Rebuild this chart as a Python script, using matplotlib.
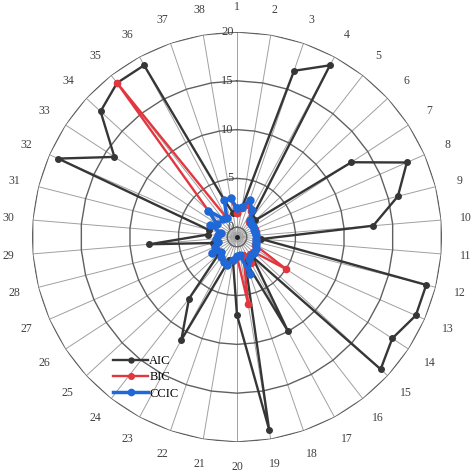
import matplotlib.pyplot as plt
import numpy as np
from matplotlib.transforms import offset_copy

# categories 1..38, clockwise from top
cats = [str(i) for i in range(1, 39)]

aic = [2.0, 2.0, 17.0, 19.0, 1.5, 1.5, 13.0, 18.0, 16.0, 13.0,
       1.5, 19.0, 19.0, 18.0, 19.0, 1.5, 10.0, 1.5, 19.0, 7.0,
       1.5, 1.5, 11.0, 7.0, 1.5, 1.5, 1.5, 1.5, 8.0, 2.0,
       2.0, 19.0, 14.0, 18.0, 19.0, 19.0, 3.0, 1.5]

bic = [1.5, 2.0, 2.5, 2.0, 1.0, 1.0, 1.0, 1.0, 1.0, 1.0,
       1.0, 1.0, 1.0, 5.0, 1.2, 1.2, 2.0, 1.0, 6.0, 1.0,
       1.4, 2.0, 1.9, 1.6, 1.2, 2.0, 1.5, 1.0, 1.2, 1.0,
       0.7, 2.0, 1.5, 3.0, 19.0, 1.2, 3.0, 3.0]

ccic = [2.0, 2.1, 3.0, 2.2, 1.2, 1.0, 1.0, 0.9, 0.9, 1.0,
        1.0, 1.0, 1.1, 1.3, 1.4, 1.3, 1.6, 3.0, 0.9, 0.9,
        1.4, 2.0, 1.9, 1.6, 1.2, 2.0, 1.5, 1.0, 1.2, 1.0,
        0.7, 2.0, 1.5, 3.0, 1.4, 1.2, 3.0, 3.0]

rings = [0, 5, 10, 15, 20]

serif = ['Liberation Serif', 'DejaVu Serif']

n = len(cats)
theta = np.arange(n) * 2 * np.pi / n
th_closed = np.append(theta, theta[0])

def close(v):
    return list(v) + [v[0]]

fig = plt.figure(figsize=(4.74, 4.74), dpi=100)
ax = fig.add_axes([32/474, 32/474, 410/474, 410/474], polar=True)
ax.set_theta_zero_location('N')
ax.set_theta_direction(-1)
ax.set_ylim(-1, 20)
ax.grid(False)
ax.spines['polar'].set_visible(False)
ax.set_xticks([])
ax.set_yticks([])

# spokes
for t in theta:
    ax.plot([t, t], [-1, 20], color='#a0a0a0', lw=0.7, zorder=1)

# polygon rings
for r in rings:
    ax.plot(th_closed, [r] * (n + 1), color='#606060', lw=1.0, zorder=1.5)
ax.plot([0], [-1], 'o', color='#222222', markersize=2.5, zorder=1.6)

# radial labels, just left of the top spoke
trans = offset_copy(ax.transData, fig=fig, x=-2.5, y=0, units='points')
for r in rings:
    ax.text(0, r, str(r), transform=trans, ha='right', va='center',
            fontsize=9, family=serif, color='#404040', zorder=2)

# category labels
for t, c in zip(theta, cats):
    ax.text(t, 22.55, c, ha='center', va='center', fontsize=8.5,
            family=serif, color='#404040', clip_on=False)

ax.plot(th_closed, close(aic), color='#363636', lw=1.7, marker='o',
        markersize=4, label='AIC', zorder=3)
ax.plot(th_closed, close(bic), color='#e2373e', lw=1.7, marker='o',
        markersize=4.5, label='BIC', zorder=4)
ax.plot(th_closed, close(ccic), color='#1f68d8', lw=2.5, marker='o',
        markersize=5, label='CCIC', zorder=5)

fig.legend(loc='upper left', bbox_to_anchor=(113/474, 1 - 355/474),
           frameon=False, prop={'family': serif, 'size': 9},
           handlelength=2.8, handletextpad=0.1, labelspacing=0.35,
           borderpad=0, borderaxespad=0, markerscale=0.9)

fig.savefig('out.png', dpi=100)
